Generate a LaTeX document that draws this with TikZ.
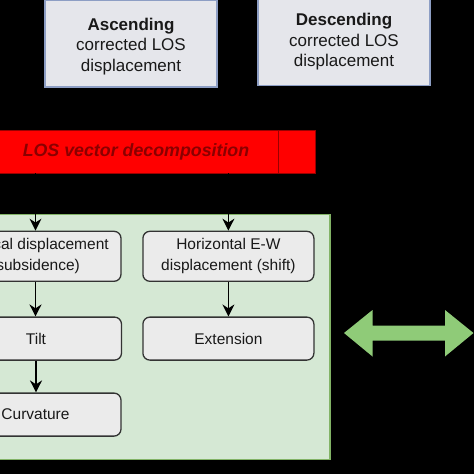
\documentclass[tikz,border=0pt]{standalone}
\usepackage{fontspec}
\setmainfont{Liberation Sans}
\usetikzlibrary{positioning,arrows.meta}
\definecolor{srcfill}{HTML}{E5E6EB}
\definecolor{srcline}{HTML}{8D9EC4}
\definecolor{boxfill}{HTML}{EBEBEB}
\definecolor{panelfill}{HTML}{D5E8D4}
\definecolor{panelline}{HTML}{82B366}
\definecolor{barred}{HTML}{FF0000}
\definecolor{bartext}{HTML}{8A0000}
\definecolor{linkgreen}{HTML}{8FCB78}

\begin{document}
\begin{tikzpicture}[x=1pt, y=-1pt,
  every node/.style={font=\fontsize{15.5}{21}\selectfont, text=black!90},
  src/.style   ={draw=srcline, line width=1.2pt, fill=srcfill,
                 minimum width=172pt, minimum height=87pt,
                 align=center, inner sep=0pt,
                 font=\fontsize{17}{20.5}\selectfont},
  bar/.style   ={draw=red!60!black, line width=0.8pt, fill=barred,
                 minimum height=43pt, inner sep=0pt},
  panel/.style ={draw=panelline, line width=1.2pt, fill=panelfill,
                 minimum width=390pt, minimum height=245pt},
  rbox/.style  ={draw=black!80, line width=1.3pt, rounded corners=7pt,
                 fill=boxfill, minimum width=171pt, minimum height=#1,
                 align=center, inner sep=0pt},
  arr/.style   ={-{Stealth[length=12pt, width=12pt]}, line width=1.3pt, black}]

\useasboundingbox (0,0) rectangle (474,474);
\clip (0,0) rectangle (474,474);
\fill[black] (0,0) rectangle (474,474);

%% Top: corrected LOS inputs
\node[src] (asc)  at (131, 43.5) {\rule{0pt}{18.4pt}\textbf{Ascending}\\corrected LOS\\displacement};
\node[src] (desc) at (344, 42)   {\textbf{Descending}\\corrected LOS\\displacement};

%% Decomposition bar (two cells)
\node[bar, minimum width=284pt, text=bartext,
      font=\fontsize{17.8}{20}\selectfont\bfseries\itshape]
      (los)    at (136, 151.5) {LOS vector decomposition};
\node[bar, minimum width=37pt] (loscap) at (296.5, 151.5) {};

%% Green panel with the derived quantities
\node[panel] (panel) at (135, 337) {};

\node[rbox=50pt] (vert)  at (35.5, 256.3)  {Vertical displacement\\(subsidence)};
\node[rbox=50pt] (horiz) at (228.4, 256.3) {Horizontal E-W\\displacement (shift)};
\node[rbox=43pt] (tilt)  at (36, 338.6)    {Tilt};
\node[rbox=43pt] (ext)   at (228.4, 338.6) {Extension};
\node[rbox=43pt] (curv)  at (35.5, 414.6)  {Curvature};

%% Arrows
\draw[arr] (vert.north |- los.south)  -- (vert.north);
\draw[arr] (horiz.north |- los.south) -- (horiz.north);
\draw[arr] (vert.south)  -- (vert.south |- tilt.north);
\draw[arr] (horiz.south) -- (ext.north);
\draw[arr] (tilt.south)  -- (tilt.south |- curv.north);

%% Two-way link on the right
\fill[linkgreen] (344,333) -- (372.5,310) -- (372.5,325.5) -- (445,325.5)
  -- (445,310) -- (473.5,333) -- (445,356.5) -- (445,340.5)
  -- (372.5,340.5) -- (372.5,356.5) -- cycle;
\end{tikzpicture}
\end{document}
